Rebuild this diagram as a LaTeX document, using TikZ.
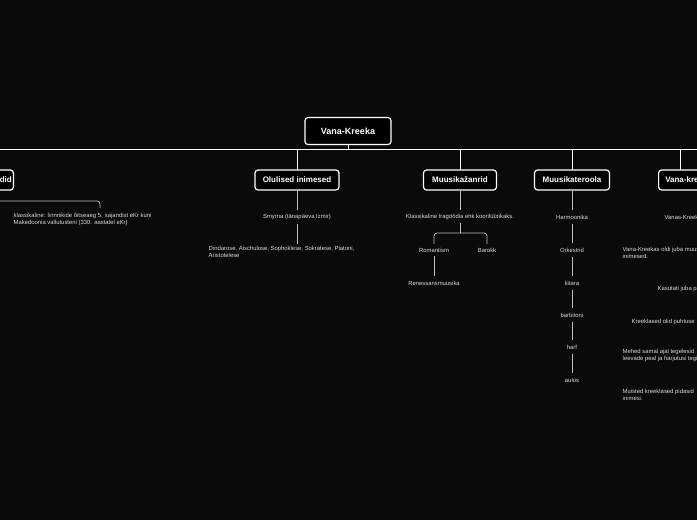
\documentclass[tikz,border=0pt]{standalone}
\usepackage{fontspec}
\setmainfont{Liberation Sans}
\begin{document}
\begin{tikzpicture}[x=1pt,y=-1pt,
  box/.style={draw=white,line width=1.2pt,rounded corners=3pt,fill=black,text=white,font=\bfseries\fontsize{8}{9}\selectfont,inner sep=0pt,minimum height=20pt},
  rootbox/.style={box,font=\bfseries\fontsize{9}{10}\selectfont,minimum height=27pt,minimum width=86pt},
  lbl/.style={text=white!85!black,font=\fontsize{5.9}{7}\selectfont,inner sep=0.5pt,align=left},
  ln/.style={draw=white!75!black,line width=0.7pt},
  hl/.style={draw=white,line width=1pt}]
\fill[black!96!white] (0,0) rectangle (697,520);
\useasboundingbox (0,0) rectangle (697,520);
\begin{scope}
\clip (0,0) rectangle (697,520);
\draw[hl] (0,149) -- (697,149);
\draw[hl] (348,144) -- (348,149);
\draw[hl] (297,170) -- (297,149);
\draw[hl] (460,170) -- (460,149);
\draw[hl] (572,170) -- (572,149);
\draw[hl] (680,170) -- (680,149);
\node[rootbox] (root) at (348,131) {Vana-Kreeka};
\node[box,minimum width=40pt,anchor=east] (p0) at (14,180) {Perioodid};
\node[box,minimum width=84pt] (p1) at (297,180) {Olulised inimesed};
\node[box,minimum width=73pt] (p2) at (460,180) {Muusikažanrid};
\node[box,minimum width=75pt] (p3) at (572,180) {Muusikateroola};
\node[box,minimum width=60pt,anchor=west] (p4) at (658,180) {Vana-kreeka};

% left
\draw[ln,rounded corners=3pt] (0,201) -- (100,201) -- (100,208);
\node[lbl,anchor=north west] (a1) at (13,213) {klassikaline: linnriikide õitseaeg 5. sajandist eKr kuni\\Makedoonia vallutusteni (330. aastatel eKr)};

% Olulised
\node[lbl] (b1) at (297,217) {Smyrna (tänapäeva Izmir)};
\node[lbl,anchor=north west] (b2) at (208,246) {Dindarose, Aischulose, Sophoklese, Sokratese, Platoni,\\Aristotelese};
\draw[ln] (p1.south) -- (297,210);
\draw[ln] (297,224) -- (297,244);

% Muusikazanrid
\node[lbl] (c1) at (460,217) {Klassikaline tragöödia ehk koorilüürikaks.};
\node[lbl] (c2) at (434,250) {Romantism};
\node[lbl] (c3) at (487,250) {Barokk};
\node[lbl] (c4) at (434,283) {Renessansmuusika};
\draw[ln] (p2.south) -- (460,210);
\draw[ln] (460,223) -- (460,233);
\draw[ln,rounded corners=3pt] (434,244) -- (434,233) -- (487,233) -- (487,244);
\draw[ln] (434,256) -- (434,276);

% Muusikateroola
\node[lbl] (d1) at (572,217) {Harmoonika};
\node[lbl] (d2) at (572,250) {Orkestrid};
\node[lbl] (d3) at (572,283) {kitara};
\node[lbl] (d4) at (572,315) {barbitoni};
\node[lbl] (d5) at (572,347) {harf};
\node[lbl] (d6) at (572,380) {aulos};
\draw[ln] (p3.south) -- (572,210);
\draw[ln] (572,224) -- (572,243);
\draw[ln] (572,257) -- (572,276);
\draw[ln] (572,290) -- (572,308);
\draw[ln] (572,322) -- (572,340);
\draw[ln] (572,354) -- (572,373);

% right column
\node[lbl,anchor=west] (e1) at (664,217) {Vanas-Kreekas};
\node[lbl,anchor=north west] (e2) at (622,247) {Vana-Kreekas oldi juba muusikalised\\inimesed.};
\node[lbl,anchor=west] (e3) at (657,289) {Kasutati juba palju};
\node[lbl,anchor=west] (e4) at (631,322) {Kreeklased olid puhtuse};
\node[lbl,anchor=north west] (e5) at (622,349) {Mehed samal ajal tegelesid\\leevade peal ja harjutusi tegid};
\node[lbl,anchor=north west] (e6) at (622,389) {Muisted kreeklased pidasid\\inimesi.};
\end{scope}
\end{tikzpicture}
\end{document}
